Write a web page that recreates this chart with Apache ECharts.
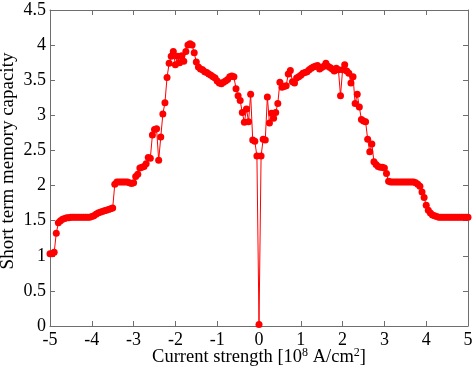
<!DOCTYPE html>
<html>
<head>
<meta charset="utf-8">
<script src="https://cdn.jsdelivr.net/npm/echarts@6/dist/echarts.min.js"></script>
<style>html,body{margin:0;padding:0;background:#fff}#c{width:474px;height:370px}</style>
</head>
<body>
<div id="c"></div>
<script>
// x values: current strength [10^8 A/cm^2]
const xStart = -5, xStep = 0.05;
// Short term memory capacity, one per x step
const capacity = [
1.03,1.03,1.05,1.32,1.47,1.50,1.52,1.53,1.54,1.54,
1.55,1.55,1.55,1.55,1.55,1.55,1.55,1.55,1.55,1.55,
1.56,1.57,1.59,1.61,1.62,1.63,1.64,1.65,1.66,1.67,
1.68,2.02,2.05,2.05,2.05,2.05,2.05,2.05,2.04,2.03,
2.04,2.13,2.16,2.25,2.26,2.27,2.31,2.40,2.39,2.72,
2.80,2.81,2.36,2.69,3.02,3.18,3.54,3.74,3.84,3.91,
3.72,3.84,3.75,3.85,3.77,3.91,4.00,4.02,4.00,3.89,
3.76,3.69,3.66,3.65,3.62,3.61,3.59,3.57,3.55,3.53,
3.49,3.46,3.45,3.47,3.49,3.51,3.55,3.56,3.55,3.38,
3.28,3.21,3.04,2.90,3.09,2.91,3.30,2.65,2.63,2.42,
0.02,
2.42,2.66,2.65,3.26,2.89,3.03,2.96,3.04,3.17,3.47,
3.40,3.41,3.42,3.59,3.64,3.48,3.46,3.53,3.55,3.57,
3.60,3.61,3.62,3.65,3.67,3.69,3.70,3.71,3.66,3.68,
3.70,3.74,3.70,3.68,3.66,3.63,3.67,3.65,3.28,3.65,
3.72,3.63,3.60,3.46,3.55,3.17,3.30,3.12,2.94,2.92,
2.91,2.66,2.48,2.59,2.34,2.30,2.27,2.26,2.26,2.25,
2.17,2.06,2.05,2.05,2.05,2.05,2.05,2.05,2.05,2.05,
2.05,2.05,2.05,2.05,2.04,2.02,1.99,1.91,1.83,1.72,
1.65,1.61,1.58,1.57,1.56,1.55,1.55,1.55,1.55,1.55,
1.55,1.55,1.55,1.55,1.55,1.55,1.55,1.55,1.55,1.55
];
const xTicks = [-5,-4,-3,-2,-1,0,1,2,3,4,5];
const yTicks = [0,0.5,1,1.5,2,2.5,3,3.5,4,4.5];

const data = capacity.map((v,i)=>[+(xStart + i*xStep).toFixed(2), v]);

const font = "'Liberation Serif','Times New Roman',serif";
const axisCol = '#6e6e6e';
const chart = echarts.init(document.getElementById('c'), null, {renderer:'canvas'});
const baseX = {
  type:'value', min:xTicks[0], max:xTicks[xTicks.length-1], interval:1,
  splitLine:{show:false},
  axisLine:{show:true, onZero:false, lineStyle:{color:axisCol, width:1}},
  axisTick:{show:true, inside:true, length:5, lineStyle:{color:axisCol}},
};
const baseY = {
  type:'value', min:yTicks[0], max:yTicks[yTicks.length-1], interval:0.5,
  splitLine:{show:false},
  axisLine:{show:true, onZero:false, lineStyle:{color:axisCol, width:1}},
  axisTick:{show:true, inside:true, length:5, lineStyle:{color:axisCol}},
};
chart.setOption({
  animation:false,
  backgroundColor:'#fff',
  grid:{left:50, right:6, top:10, bottom:44, containLabel:false, outerBoundsMode:'none'},
  xAxis:[
    Object.assign({}, baseX, {
      position:'bottom',
      axisLabel:{color:'#000', fontFamily:font, fontSize:18, margin:5},
      name:'Current strength [10{sup|8} A/cm{sup|2}]',
      nameLocation:'middle', nameGap:21, nameMoveOverlap:false,
      nameTextStyle:{color:'#000', fontFamily:font, fontSize:18.5,
        rich:{sup:{fontFamily:font, fontSize:12, color:'#000', padding:[0,0,9,0]}}}
    }),
    Object.assign({}, baseX, {position:'top', axisLabel:{show:false}})
  ],
  yAxis:[
    Object.assign({}, baseY, {
      position:'left',
      axisLabel:{color:'#000', fontFamily:font, fontSize:18, margin:4},
      name:'Short term memory capacity',
      nameLocation:'middle', nameGap:32, nameRotate:90, nameMoveOverlap:false,
      nameTextStyle:{color:'#000', fontFamily:font, fontSize:19, padding:[0,0,0,14]}
    }),
    Object.assign({}, baseY, {position:'right', axisLabel:{show:false}})
  ],
  series:[{
    type:'line', data:data, xAxisIndex:0, yAxisIndex:0,
    symbol:'circle', symbolSize:7, showAllSymbol:true,
    itemStyle:{color:'#ff0000'},
    lineStyle:{color:'#ff0000', width:1},
    clip:false
  }]
});
</script>
</body>
</html>
